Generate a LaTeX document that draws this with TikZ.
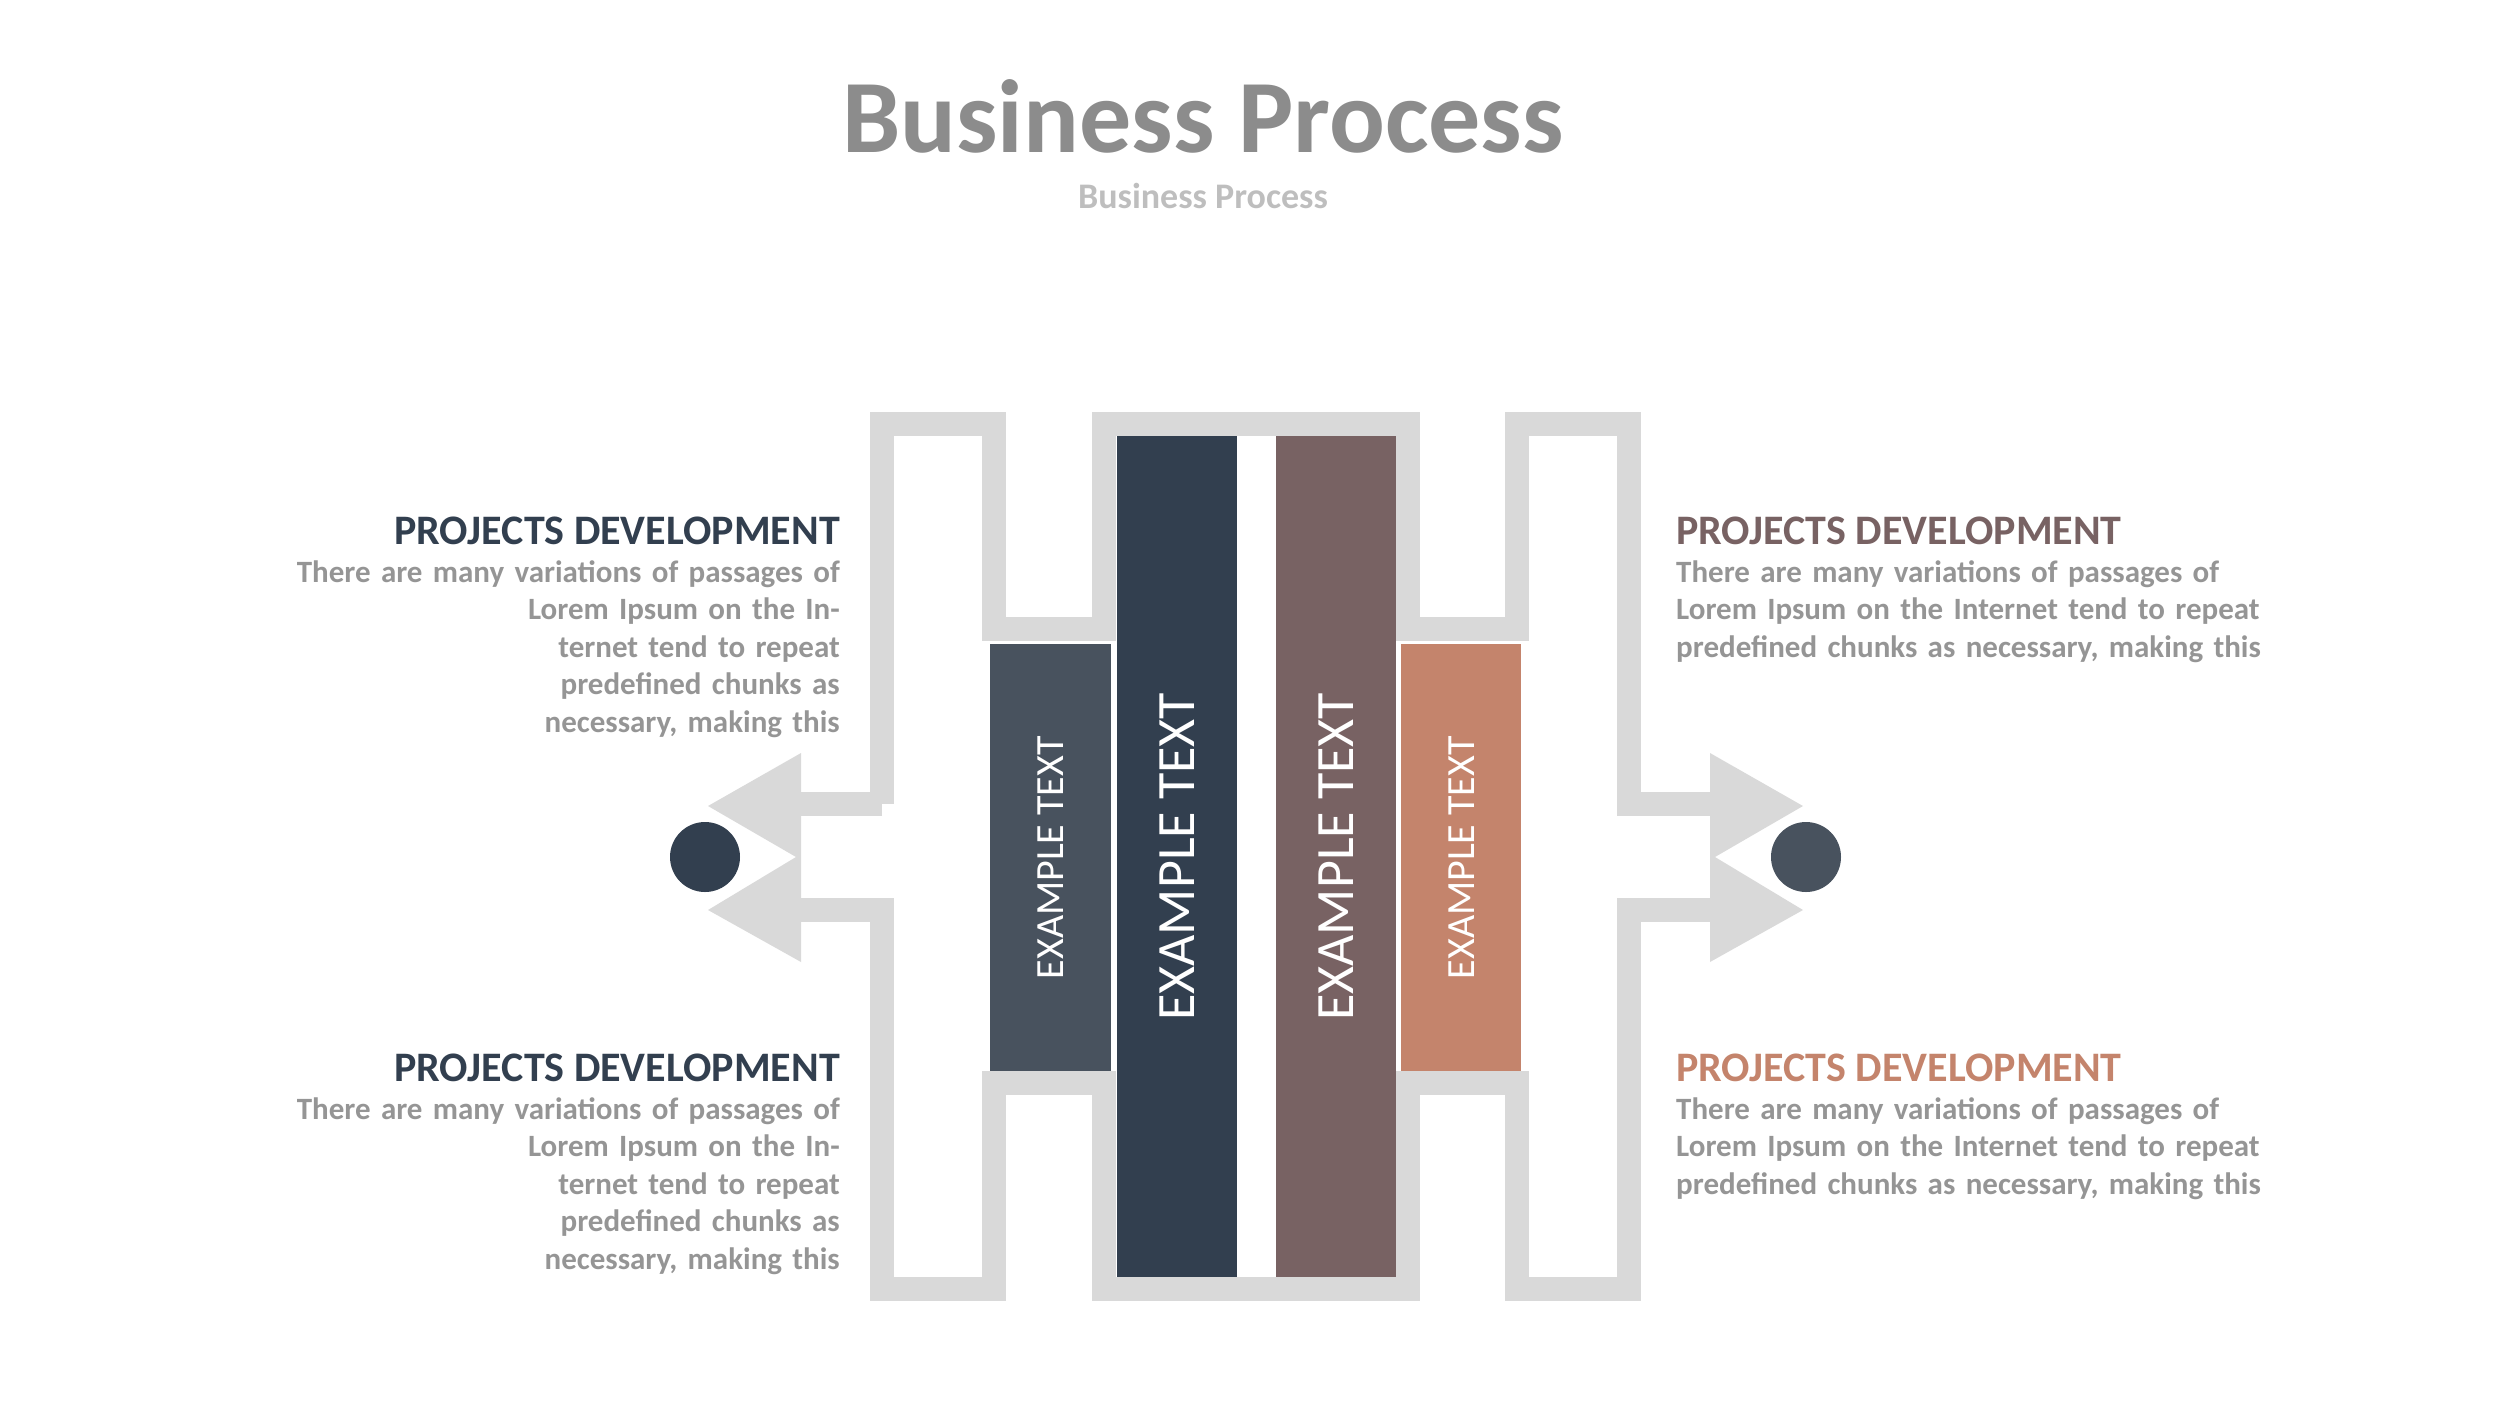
\documentclass[tikz,border=0pt]{standalone}
\usepackage{fontspec}
\setmainfont{Carlito}
\definecolor{navy}{HTML}{323F4F}
\definecolor{slate}{HTML}{48525E}
\definecolor{brownc}{HTML}{786263}
\definecolor{orangec}{HTML}{C4846C}
\definecolor{lgray}{HTML}{D9D9D9}
\definecolor{tgray}{HTML}{8C8C8C}
\definecolor{bodygray}{HTML}{959595}
\begin{document}
\begin{tikzpicture}[x=1pt,y=-1pt,
  outl/.style={draw=lgray,line width=24pt,line join=miter},
  bar/.style={draw=none,inner sep=0pt,anchor=north west},
  vtext/.style={text=white,rotate=90,font=\fontsize{40}{40}\selectfont},
  vbig/.style={text=white,rotate=90,font=\fontsize{54}{54}\selectfont},
  head/.style={font=\bfseries\fontsize{42}{42}\selectfont,inner sep=0pt},
  bodytxt/.style={font=\bfseries\fontsize{31}{37.6}\selectfont,text=bodygray,inner sep=0pt,text width=580pt}]
\useasboundingbox (0,0) rectangle (2500,1406);
% outline
\draw[outl] (882,804) -- (882,424) -- (994,424) -- (994,629) -- (1104,629) -- (1104,424) -- (1408,424) -- (1408,629) -- (1517,629) -- (1517,424) -- (1629,424) -- (1629,804) -- (1712,804);
\draw[outl] (1712,910) -- (1629,910) -- (1629,1289) -- (1517,1289) -- (1517,1083) -- (1408,1083) -- (1408,1289) -- (1104,1289) -- (1104,1083) -- (994,1083) -- (994,1289) -- (882,1289) -- (882,910) -- (799,910);
\draw[outl] (882,804) -- (799,804);
% arrowheads
\fill[lgray] (1710,753) -- (1803,806) -- (1715,857) -- (1803,910) -- (1710,962) -- cycle;
\fill[lgray] (801,753) -- (708,806) -- (796,857) -- (708,910) -- (801,962) -- cycle;
\fill[slate] (1806,857) circle (35);
\fill[navy] (705,857) circle (35);
% bars
\node[bar,fill=navy,minimum width=120pt,minimum height=841pt] (b2) at (1117,436) {};
\node[bar,fill=brownc,minimum width=120pt,minimum height=841pt] (b3) at (1276,436) {};
\node[bar,fill=slate,minimum width=121pt,minimum height=427pt] (b1) at (990,644) {};
\node[bar,fill=orangec,minimum width=120pt,minimum height=427pt] (b4) at (1401,644) {};
\node[vtext] at (b1.center) {EXAMPLE TEXT};
\node[vbig] at (b2.center) {EXAMPLE TEXT};
\node[vbig] at (b3.center) {EXAMPLE TEXT};
\node[vtext] at (b4.center) {EXAMPLE TEXT};
% title
\node[font=\bfseries\fontsize{104}{104}\selectfont,text=tgray] (title) at (1203,116) {Business Process};
\node[font=\bfseries\fontsize{36}{36}\selectfont,text=lgray!70!gray] (sub) at (1203,196) {Business Process};
% texts
\node[head,text=navy,anchor=east] (h1) at (840,531) {PROJECTS DEVELOPMENT};
\node[bodytxt,anchor=north east,align=right] (t1) at (840,560) {There are many variations of passages of\\Lorem Ipsum on the Internet tend to repeat\\predefined chunks as necessary, making this};
\node[head,text=navy,anchor=east] (h2) at (840,1068) {PROJECTS DEVELOPMENT};
\node[bodytxt,anchor=north east,align=right] (t2) at (840,1097) {There are many variations of passages of\\Lorem Ipsum on the Internet tend to repeat\\predefined chunks as necessary, making this};
\node[head,text=brownc,anchor=west] (h3) at (1676,531) {PROJECTS DEVELOPMENT};
\node[bodytxt,anchor=north west,text width=626pt,align=left] (t3) at (1676,560) {\makebox[626pt][s]{There are many variations of passages of}\\\makebox[626pt][s]{Lorem Ipsum on the Internet tend to repeat}\\predefined chunks as necessary, making this};
\node[head,text=orangec,anchor=west] (h4) at (1676,1068) {PROJECTS DEVELOPMENT};
\node[bodytxt,anchor=north west,text width=626pt,align=left] (t4) at (1676,1097) {\makebox[626pt][s]{There are many variations of passages of}\\\makebox[626pt][s]{Lorem Ipsum on the Internet tend to repeat}\\predefined chunks as necessary, making this};
\end{tikzpicture}
\end{document}
